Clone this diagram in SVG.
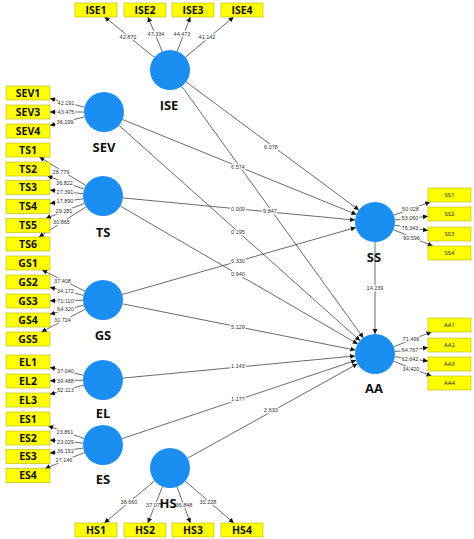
<svg xmlns="http://www.w3.org/2000/svg" width="474" height="539" viewBox="0 0 474 539">
<defs>
<marker id="ah" markerUnits="userSpaceOnUse" markerWidth="6" markerHeight="6" refX="5" refY="2.5" orient="auto">
<path d="M0,0 L5,2.5 L0,5 z" fill="#111"/>
</marker>
<style>
.lv{fill:#1b8ef2}
.lvt{font-family:"Open Sans","Liberation Sans",sans-serif;font-weight:bold;font-size:13px;fill:#111;text-anchor:middle}
.box{fill:#ffff00;stroke:#b5b500;stroke-width:0.6}
.bt{font-family:"Open Sans","Liberation Sans",sans-serif;font-weight:bold;font-size:10.5px;fill:#111;text-anchor:middle}
.bts{font-family:"Open Sans","Liberation Sans",sans-serif;font-size:6px;fill:#222;text-anchor:middle}
.ln{stroke:#444;stroke-width:0.8;fill:none;marker-end:url(#ah)}
.lb{font-family:"Liberation Sans",Arial,sans-serif;font-size:5.5px;fill:#333;text-anchor:middle;stroke:#fff;stroke-width:2.5;paint-order:stroke;stroke-linejoin:round}
</style>
</defs>
<rect width="474" height="539" fill="#fff"/>

<g id="connectors">
<!-- structural paths -->
<line class="ln" x1="186.07" y1="81.91" x2="358.93" y2="210.09"/>
<line class="ln" x1="181.71" y1="86.22" x2="363.29" y2="337.78"/>
<line class="ln" x1="122.53" y1="119.52" x2="356.47" y2="214.48"/>
<line class="ln" x1="118.92" y1="125.32" x2="360.08" y2="340.68"/>
<line class="ln" x1="122.91" y1="197.9" x2="355.09" y2="220.1"/>
<line class="ln" x1="120.29" y1="206.05" x2="357.71" y2="343.95"/>
<line class="ln" x1="122.23" y1="294.49" x2="355.77" y2="227.51"/>
<line class="ln" x1="122.62" y1="303.89" x2="355.38" y2="350.11"/>
<line class="ln" x1="122.91" y1="378.1" x2="355.09" y2="355.9"/>
<line class="ln" x1="121.97" y1="438.65" x2="356.03" y2="360.35"/>
<line class="ln" x1="187.48" y1="458.28" x2="357.52" y2="363.72"/>
<line class="ln" x1="375" y1="242" x2="375" y2="334"/>
<!-- ISE indicators -->
<line class="ln" x1="154.47" y1="57.4" x2="104.63" y2="17"/>
<line class="ln" x1="162.31" y1="51.54" x2="147.92" y2="17"/>
<line class="ln" x1="177.16" y1="51.33" x2="190.32" y2="17"/>
<line class="ln" x1="185.36" y1="57.2" x2="233.6" y2="17"/>
<!-- SEV -->
<line class="ln" x1="84.6" y1="107.15" x2="50" y2="98.5"/>
<line class="ln" x1="84" y1="112" x2="50" y2="112"/>
<line class="ln" x1="84.6" y1="116.85" x2="50" y2="125.5"/>
<!-- TS -->
<line class="ln" x1="85.95" y1="185.54" x2="39.4" y2="157"/>
<line class="ln" x1="84.18" y1="189.23" x2="47.45" y2="176"/>
<line class="ln" x1="83.13" y1="193.75" x2="50" y2="190"/>
<line class="ln" x1="83.19" y1="198.77" x2="50" y2="203.4"/>
<line class="ln" x1="84.39" y1="203.32" x2="45.8" y2="218.5"/>
<line class="ln" x1="86.15" y1="206.78" x2="38.94" y2="237"/>
<!-- GS -->
<line class="ln" x1="85.06" y1="291.15" x2="42.19" y2="270"/>
<line class="ln" x1="83.55" y1="295.33" x2="50" y2="287.28"/>
<line class="ln" x1="83" y1="300.27" x2="50" y2="300.7"/>
<line class="ln" x1="83.68" y1="305.15" x2="50" y2="314.13"/>
<line class="ln" x1="85.25" y1="309.23" x2="41.46" y2="332"/>
<!-- EL -->
<line class="ln" x1="83.55" y1="375.33" x2="50" y2="367.28"/>
<line class="ln" x1="83" y1="380.27" x2="50" y2="380.7"/>
<line class="ln" x1="83.68" y1="385.15" x2="50" y2="394.13"/>
<!-- ES -->
<line class="ln" x1="84.1" y1="438.45" x2="48.19" y2="426"/>
<line class="ln" x1="83.09" y1="443.14" x2="50" y2="440.05"/>
<line class="ln" x1="83.23" y1="448.03" x2="50" y2="453.13"/>
<line class="ln" x1="84.47" y1="452.53" x2="45.21" y2="468.5"/>
<!-- HS -->
<line class="ln" x1="154.67" y1="480.84" x2="104.35" y2="523"/>
<line class="ln" x1="162.52" y1="486.55" x2="147.82" y2="523"/>
<line class="ln" x1="176.96" y1="486.75" x2="190.4" y2="523"/>
<line class="ln" x1="185.15" y1="481.05" x2="233.87" y2="523"/>
<!-- SS -->
<line class="ln" x1="393.8" y1="215.19" x2="430.18" y2="202"/>
<line class="ln" x1="394.89" y1="219.86" x2="428" y2="216.3"/>
<line class="ln" x1="394.75" y1="225.18" x2="428" y2="230.54"/>
<line class="ln" x1="393.47" y1="229.68" x2="432.68" y2="246"/>
<!-- AA -->
<line class="ln" x1="393.64" y1="346.75" x2="431.52" y2="332"/>
<line class="ln" x1="394.86" y1="351.6" x2="428" y2="347.6"/>
<line class="ln" x1="394.82" y1="356.66" x2="428" y2="361.11"/>
<line class="ln" x1="393.64" y1="361.25" x2="431.52" y2="376"/>

<!-- path labels -->
<text class="lb" x="271" y="149">6.078</text>
<text class="lb" x="270" y="213">9.847</text>
<text class="lb" x="238" y="169">6.574</text>
<text class="lb" x="238" y="234">0.195</text>
<text class="lb" x="238" y="211">0.009</text>
<text class="lb" x="238" y="276">0.940</text>
<text class="lb" x="238" y="263">6.330</text>
<text class="lb" x="238" y="329">5.129</text>
<text class="lb" x="238" y="368">1.143</text>
<text class="lb" x="238" y="401">1.177</text>
<text class="lb" x="271" y="412">2.633</text>
<text class="lb" x="375" y="290">14.239</text>
<!-- loading labels -->
<text class="lb" x="128" y="39">42.870</text>
<text class="lb" x="156" y="36">47.334</text>
<text class="lb" x="182" y="36">44.473</text>
<text class="lb" x="207" y="39">41.142</text>
<text class="lb" x="66" y="105">42.191</text>
<text class="lb" x="66" y="114">43.475</text>
<text class="lb" x="65" y="123.5">36.199</text>
<text class="lb" x="61" y="173.5">28.779</text>
<text class="lb" x="64.5" y="184.5">36.822</text>
<text class="lb" x="65" y="194">27.391</text>
<text class="lb" x="65" y="203">17.890</text>
<text class="lb" x="64" y="213">29.281</text>
<text class="lb" x="61.5" y="224">30.865</text>
<text class="lb" x="62.5" y="282.5">37.408</text>
<text class="lb" x="65.5" y="293">34.172</text>
<text class="lb" x="65.5" y="302.5">71.110</text>
<text class="lb" x="65.5" y="311">64.320</text>
<text class="lb" x="62.5" y="322">31.724</text>
<text class="lb" x="65.5" y="373">37.040</text>
<text class="lb" x="65.5" y="382.5">39.488</text>
<text class="lb" x="65.5" y="391.5">52.113</text>
<text class="lb" x="65" y="434">23.861</text>
<text class="lb" x="65.5" y="443.5">23.029</text>
<text class="lb" x="65.5" y="452.5">36.151</text>
<text class="lb" x="64" y="462">27.146</text>
<text class="lb" x="129" y="504">38.660</text>
<text class="lb" x="154.5" y="507">37.075</text>
<text class="lb" x="184" y="507">36.848</text>
<text class="lb" x="208" y="503.5">32.228</text>
<text class="lb" x="410.5" y="210.5">50.028</text>
<text class="lb" x="410" y="220">53.060</text>
<text class="lb" x="410" y="230">75.343</text>
<text class="lb" x="411.5" y="239.5">90.596</text>
<text class="lb" x="411" y="341">71.466</text>
<text class="lb" x="410" y="351.5">64.767</text>
<text class="lb" x="410" y="361">62.642</text>
<text class="lb" x="411" y="370.5">34.420</text>
</g>

<g id="ISE"><circle class="lv" cx="170" cy="70" r="20"/><text class="lvt" x="169" y="110">ISE</text></g>
<g id="SEV"><circle class="lv" cx="104" cy="112" r="20"/><text class="lvt" x="104" y="152">SEV</text></g>
<g id="TS"><circle class="lv" cx="103" cy="196" r="20"/><text class="lvt" x="103" y="237">TS</text></g>
<g id="GS"><circle class="lv" cx="103" cy="300" r="20"/><text class="lvt" x="103" y="340">GS</text></g>
<g id="EL"><circle class="lv" cx="103" cy="380" r="20"/><text class="lvt" x="103" y="418">EL</text></g>
<g id="ES"><circle class="lv" cx="103" cy="445" r="20"/><text class="lvt" x="103" y="484">ES</text></g>
<g id="HS"><circle class="lv" cx="170" cy="468" r="20"/><text class="lvt" x="168" y="508">HS</text></g>
<g id="SS"><circle class="lv" cx="375" cy="222" r="20"/><text class="lvt" x="374" y="262">SS</text></g>
<g id="AA"><circle class="lv" cx="375" cy="354" r="20"/><text class="lvt" x="374" y="393">AA</text></g>

<g id="ISE1"><rect class="box" x="75" y="3" width="42" height="14"/><text class="bt" x="96" y="13.8">ISE1</text></g>
<g id="ISE2"><rect class="box" x="124" y="3" width="42" height="14"/><text class="bt" x="145" y="13.8">ISE2</text></g>
<g id="ISE3"><rect class="box" x="172" y="3" width="42" height="14"/><text class="bt" x="193" y="13.8">ISE3</text></g>
<g id="ISE4"><rect class="box" x="221" y="3" width="42" height="14"/><text class="bt" x="242" y="13.8">ISE4</text></g>

<g id="SEV1"><rect class="box" x="6" y="86" width="44" height="14"/><text class="bt" x="28" y="96.8">SEV1</text></g>
<g id="SEV3"><rect class="box" x="6" y="105" width="44" height="14"/><text class="bt" x="28" y="115.8">SEV3</text></g>
<g id="SEV4"><rect class="box" x="6" y="124" width="44" height="14"/><text class="bt" x="28" y="134.8">SEV4</text></g>
<g id="TS1"><rect class="box" x="6" y="143" width="44" height="14"/><text class="bt" x="28" y="153.8">TS1</text></g>
<g id="TS2"><rect class="box" x="6" y="162" width="44" height="14"/><text class="bt" x="28" y="172.8">TS2</text></g>
<g id="TS3"><rect class="box" x="6" y="180.5" width="44" height="14"/><text class="bt" x="28" y="191.3">TS3</text></g>
<g id="TS4"><rect class="box" x="6" y="199.5" width="44" height="14"/><text class="bt" x="28" y="210.3">TS4</text></g>
<g id="TS5"><rect class="box" x="6" y="218.5" width="44" height="14"/><text class="bt" x="28" y="229.3">TS5</text></g>
<g id="TS6"><rect class="box" x="6" y="237" width="44" height="14"/><text class="bt" x="28" y="247.8">TS6</text></g>
<g id="GS1"><rect class="box" x="6" y="256" width="44" height="14"/><text class="bt" x="28" y="266.8">GS1</text></g>
<g id="GS2"><rect class="box" x="6" y="275" width="44" height="14"/><text class="bt" x="28" y="285.8">GS2</text></g>
<g id="GS3"><rect class="box" x="6" y="294" width="44" height="14"/><text class="bt" x="28" y="304.8">GS3</text></g>
<g id="GS4"><rect class="box" x="6" y="313" width="44" height="14"/><text class="bt" x="28" y="323.8">GS4</text></g>
<g id="GS5"><rect class="box" x="6" y="332" width="44" height="14"/><text class="bt" x="28" y="342.8">GS5</text></g>
<g id="EL1"><rect class="box" x="6" y="355" width="44" height="14"/><text class="bt" x="28" y="365.8">EL1</text></g>
<g id="EL2"><rect class="box" x="6" y="374" width="44" height="14"/><text class="bt" x="28" y="384.8">EL2</text></g>
<g id="EL3"><rect class="box" x="6" y="393" width="44" height="14"/><text class="bt" x="28" y="403.8">EL3</text></g>
<g id="ES1"><rect class="box" x="6" y="412" width="44" height="14"/><text class="bt" x="28" y="422.8">ES1</text></g>
<g id="ES2"><rect class="box" x="6" y="431" width="44" height="14"/><text class="bt" x="28" y="441.8">ES2</text></g>
<g id="ES3"><rect class="box" x="6" y="449.5" width="44" height="14"/><text class="bt" x="28" y="460.3">ES3</text></g>
<g id="ES4"><rect class="box" x="6" y="468.5" width="44" height="14"/><text class="bt" x="28" y="479.3">ES4</text></g>

<g id="HS1"><rect class="box" x="75" y="523" width="42" height="14"/><text class="bt" x="96" y="533.8">HS1</text></g>
<g id="HS2"><rect class="box" x="124" y="523" width="42" height="14"/><text class="bt" x="145" y="533.8">HS2</text></g>
<g id="HS3"><rect class="box" x="172" y="523" width="42" height="14"/><text class="bt" x="193" y="533.8">HS3</text></g>
<g id="HS4"><rect class="box" x="221" y="523" width="42" height="14"/><text class="bt" x="242" y="533.8">HS4</text></g>

<g id="SS1"><rect class="box" x="428" y="188" width="43" height="14"/><text class="bts" x="449.5" y="197">SS1</text></g>
<g id="SS2"><rect class="box" x="428" y="207" width="43" height="14"/><text class="bts" x="449.5" y="216">SS2</text></g>
<g id="SS3"><rect class="box" x="428" y="227" width="43" height="14"/><text class="bts" x="449.5" y="236">SS3</text></g>
<g id="SS4"><rect class="box" x="428" y="246" width="43" height="14"/><text class="bts" x="449.5" y="255">SS4</text></g>
<g id="AA1"><rect class="box" x="428" y="318" width="43" height="14"/><text class="bts" x="449.5" y="327">AA1</text></g>
<g id="AA2"><rect class="box" x="428" y="338" width="43" height="14"/><text class="bts" x="449.5" y="347">AA2</text></g>
<g id="AA3"><rect class="box" x="428" y="357" width="43" height="14"/><text class="bts" x="449.5" y="366">AA3</text></g>
<g id="AA4"><rect class="box" x="428" y="376" width="43" height="14"/><text class="bts" x="449.5" y="385">AA4</text></g>
</svg>
